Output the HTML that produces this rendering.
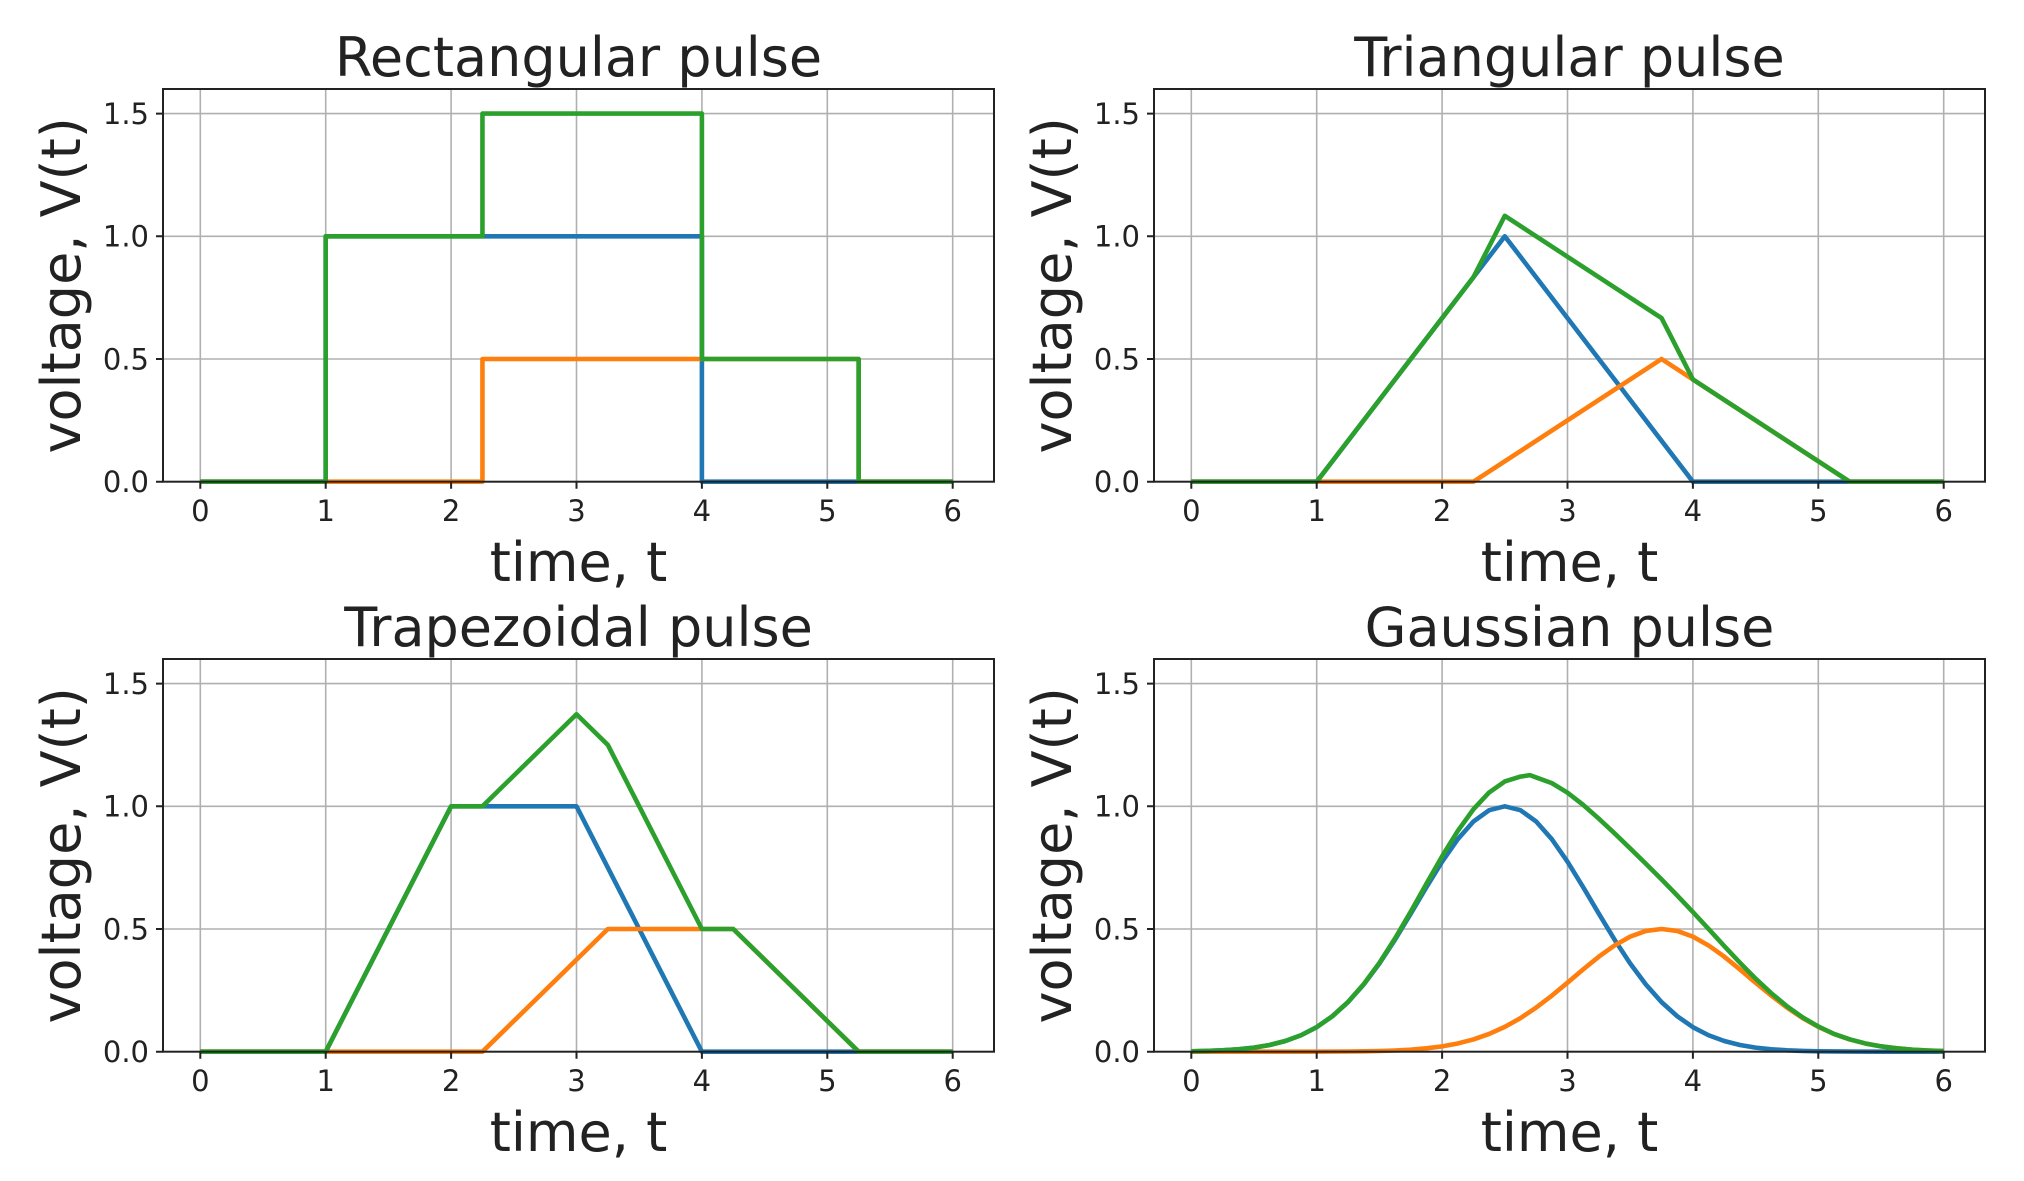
<!DOCTYPE html>
<html><head><meta charset="utf-8"><style>
html,body{margin:0;padding:0;background:#fff;}
svg{display:block;font-family:"DejaVu Sans","Liberation Sans",sans-serif;}
.g{stroke:#b0b0b0;stroke-width:1.6;vector-effect:non-scaling-stroke;fill:none}
.s{fill:none;stroke-width:4.6;stroke-linejoin:round;vector-effect:non-scaling-stroke}
.b{stroke:#1f77b4}.o{stroke:#ff7f0e}.gr{stroke:#2ca02c}
.tk{stroke:#222;stroke-width:2}
.tl{font-size:29px;fill:#222}
.big{font-size:54px;fill:#222;text-anchor:middle}
</style></head><body>
<svg width="2024" height="1181" xmlns="http://www.w3.org/2000/svg">
<rect width="2024" height="1181" fill="#fff"/>
<defs>
<g id="grid">
<path class="g" d="M0,0V1.6M1,0V1.6M2,0V1.6M3,0V1.6M4,0V1.6M5,0V1.6M6,0V1.6M-0.3,0.5H6.33M-0.3,1H6.33M-0.3,1.5H6.33"/>
</g>
<g id="frame">
<rect x="163" y="89" width="831" height="392.7" fill="none" stroke="#222" stroke-width="2"/>
<path class="tk" d="M200.3,481.7v7M325.7,481.7v7M451.1,481.7v7M576.5,481.7v7M701.9,481.7v7M827.3,481.7v7M952.7,481.7v7M156,481.7h7M156,359h7M156,236.3h7M156,113.6h7"/>
<g class="tl" text-anchor="middle">
<text x="200.3" y="521">0</text><text x="325.7" y="521">1</text><text x="451.1" y="521">2</text><text x="576.5" y="521">3</text><text x="701.9" y="521">4</text><text x="827.3" y="521">5</text><text x="952.7" y="521">6</text>
</g>
<g class="tl" text-anchor="end">
<text x="149" y="492">0.0</text><text x="149" y="369.3">0.5</text><text x="149" y="246.6">1.0</text><text x="149" y="123.9">1.5</text>
</g>
<text class="big" x="578.5" y="581">time, t</text>
<text class="big" transform="translate(80,285.3) rotate(-90)">voltage, V(t)</text>
</g>
</defs>

<g>
<g transform="translate(200.3,481.7) scale(125.4,-245.4)">
<use href="#grid"/>
<path class="s b" d="M0,0H1V1H4V0H6"/>
<path class="s o" d="M0,0H2.25V0.5H5.25V0H6"/>
<path class="s gr" d="M0,0H1V1H2.25V1.5H4V0.5H5.25V0H6"/>
</g>
<use href="#frame"/>
<text class="big" x="578.5" y="76">Rectangular pulse</text>
</g>

<g transform="translate(991,0)">
<g transform="translate(200.3,481.7) scale(125.4,-245.4)">
<use href="#grid"/>
<path class="s b" d="M0,0H1L2.5,1L4,0H6"/>
<path class="s o" d="M0,0H2.25L3.75,0.5L5.25,0H6"/>
<path class="s gr" d="M0,0H1L2.25,0.8333L2.5,1.0833L3.75,0.6667L4,0.4167L5.25,0H6"/>
</g>
<use href="#frame"/>
<text class="big" x="578.5" y="76">Triangular pulse</text>
</g>

<g transform="translate(0,570)">
<g transform="translate(200.3,481.7) scale(125.4,-245.4)">
<use href="#grid"/>
<path class="s b" d="M0,0H1L2,1H3L4,0H6"/>
<path class="s o" d="M0,0H2.25L3.25,0.5H4.25L5.25,0H6"/>
<path class="s gr" d="M0,0H1L2,1H2.25L3,1.375L3.25,1.25L4,0.5H4.25L5.25,0H6"/>
</g>
<use href="#frame"/>
<text class="big" x="578.5" y="76">Trapezoidal pulse</text>
</g>

<g transform="translate(991,570)">
<g transform="translate(200.3,481.7) scale(125.4,-245.4)">
<use href="#grid"/>
<polyline class="s b" points="0,0.0017 0.125,0.0031 0.25,0.0056 0.375,0.0099 0.5,0.0167 0.625,0.0274 0.75,0.0435 0.875,0.0671 1,0.1 1.125,0.1445 1.25,0.2021 1.375,0.2738 1.5,0.3594 1.625,0.4568 1.75,0.5624 1.875,0.6705 2,0.7743 2.125,0.866 2.25,0.938 2.375,0.9841 2.5,1 2.625,0.9841 2.75,0.938 2.875,0.866 3,0.7743 3.125,0.6705 3.25,0.5624 3.375,0.4568 3.5,0.3594 3.625,0.2738 3.75,0.2021 3.875,0.1445 4,0.1 4.125,0.0671 4.25,0.0435 4.375,0.0274 4.5,0.0167 4.625,0.0099 4.75,0.0056 4.875,0.0031 5,0.0017 5.25,0.0005 5.5,0.0001 5.75,0 6,0"/>
<polyline class="s o" points="0,0 0.75,0 1,0.0002 1.25,0.0008 1.375,0.0016 1.5,0.0028 1.625,0.0049 1.75,0.0084 1.875,0.0137 2,0.0218 2.125,0.0336 2.25,0.05 2.375,0.0723 2.5,0.1011 2.625,0.1369 2.75,0.1797 2.875,0.2284 3,0.2812 3.125,0.3353 3.25,0.3872 3.375,0.433 3.5,0.469 3.625,0.4921 3.75,0.5 3.875,0.4921 4,0.469 4.125,0.433 4.25,0.3872 4.375,0.3353 4.5,0.2812 4.625,0.2284 4.75,0.1797 4.875,0.1369 5,0.1011 5.125,0.0723 5.25,0.05 5.375,0.0336 5.5,0.0218 5.625,0.0137 5.75,0.0084 5.875,0.0049 6,0.0028"/>
<polyline class="s gr" points="0,0.0017 0.125,0.0031 0.25,0.0056 0.375,0.0099 0.5,0.0167 0.625,0.0274 0.75,0.0435 0.875,0.0671 1,0.1002 1.125,0.1445 1.25,0.2029 1.375,0.2754 1.5,0.3622 1.625,0.4617 1.75,0.5708 1.875,0.6842 2,0.7961 2.125,0.8996 2.25,0.988 2.375,1.0564 2.5,1.1011 2.625,1.121 2.7,1.127 2.75,1.1177 2.875,1.0944 3,1.0555 3.125,1.0058 3.25,0.9496 3.375,0.8898 3.5,0.8284 3.625,0.7659 3.75,0.7021 3.875,0.6366 4,0.569 4.125,0.5001 4.25,0.4307 4.375,0.3627 4.5,0.2979 4.625,0.2383 4.75,0.1853 4.875,0.1399 5,0.1028 5.125,0.0723 5.25,0.0505 5.375,0.0336 5.5,0.0219 5.625,0.0137 5.75,0.0084 5.875,0.0049 6,0.0028"/>
</g>
<use href="#frame"/>
<text class="big" x="578.5" y="76">Gaussian pulse</text>
</g>
</svg>
</body></html>
